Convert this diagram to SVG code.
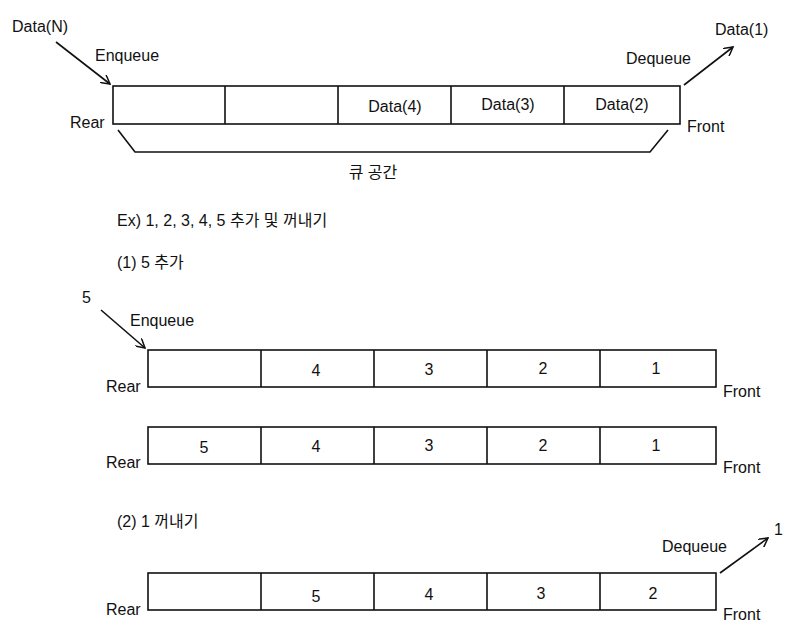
<svg xmlns="http://www.w3.org/2000/svg" width="800" height="639" viewBox="0 0 800 639">
<style>
text{font-family:"Liberation Sans","Noto Sans CJK KR",sans-serif;font-size:16px;fill:#111}
.c{text-anchor:middle}
.box{fill:#fff;stroke:#111;stroke-width:1.6}
.ln{stroke:#111;stroke-width:1.6;fill:none}
</style>
<defs><marker id="ah" markerWidth="10" markerHeight="10" refX="9" refY="5" orient="auto" markerUnits="userSpaceOnUse"><path d="M0,0 L9,5 L0,10" fill="none" stroke="#111" stroke-width="1.5"/></marker></defs>
<rect width="800" height="639" fill="#fff"/>
<g id="queue1">
<rect class="box" x="113" y="86" width="567" height="38"/>
<path class="ln" d="M225,86V124M338,86V124M451,86V124M564,86V124"/>
<text class="c" x="395" y="112">Data(4)</text><text class="c" x="508" y="110">Data(3)</text><text class="c" x="622" y="110">Data(2)</text>
<text x="70" y="128">Rear</text><text x="687" y="132">Front</text>
<text x="12" y="32">Data(N)</text><text x="95" y="61">Enqueue</text>
<text x="626" y="64">Dequeue</text><text x="715" y="35">Data(1)</text>
<path class="ln" d="M118,130 L135,152 L650,152 L668,130"/>
<text class="c" x="373" y="178">큐 공간</text>
</g>
<text x="117" y="226">Ex) 1, 2, 3, 4, 5 추가 및 꺼내기</text>
<text x="117" y="268">(1) 5 추가</text>
<g id="queue2">
<rect class="box" x="148" y="350" width="568" height="37"/>
<path class="ln" d="M261,350V387M374,350V387M487,350V387M600,350V387"/>
<text class="c" x="316" y="376">4</text><text class="c" x="429" y="375">3</text><text class="c" x="543" y="374">2</text><text class="c" x="656" y="374">1</text>
<text x="106" y="392">Rear</text><text x="723" y="397">Front</text>
<text x="82" y="303">5</text><text x="130" y="326">Enqueue</text>
</g>
<g id="queue3">
<rect class="box" x="148" y="427" width="568" height="37"/>
<path class="ln" d="M261,427V464M374,427V464M487,427V464M600,427V464"/>
<text class="c" x="204" y="453">5</text><text class="c" x="316" y="452">4</text><text class="c" x="429" y="451">3</text><text class="c" x="543" y="451">2</text><text class="c" x="656" y="451">1</text>
<text x="106" y="468">Rear</text><text x="723" y="473">Front</text>
</g>
<text x="117" y="527">(2) 1 꺼내기</text>
<g id="queue4">
<rect class="box" x="148" y="573" width="568" height="37"/>
<path class="ln" d="M261,573V610M374,573V610M487,573V610M600,573V610"/>
<text class="c" x="316" y="602">5</text><text class="c" x="429" y="600">4</text><text class="c" x="541" y="599">3</text><text class="c" x="653" y="599">2</text>
<text x="106" y="615">Rear</text><text x="723" y="620">Front</text>
<text x="662" y="552">Dequeue</text><text x="774" y="535">1</text>
</g>
<g id="connectors">
<path class="ln" d="M56,42 L110,84" marker-end="url(#ah)"/>
<path class="ln" d="M684,85 L733,47" marker-end="url(#ah)"/>
<path class="ln" d="M101,310 L145,348" marker-end="url(#ah)"/>
<path class="ln" d="M720,573 L768,538" marker-end="url(#ah)"/>
</g>
</svg>
